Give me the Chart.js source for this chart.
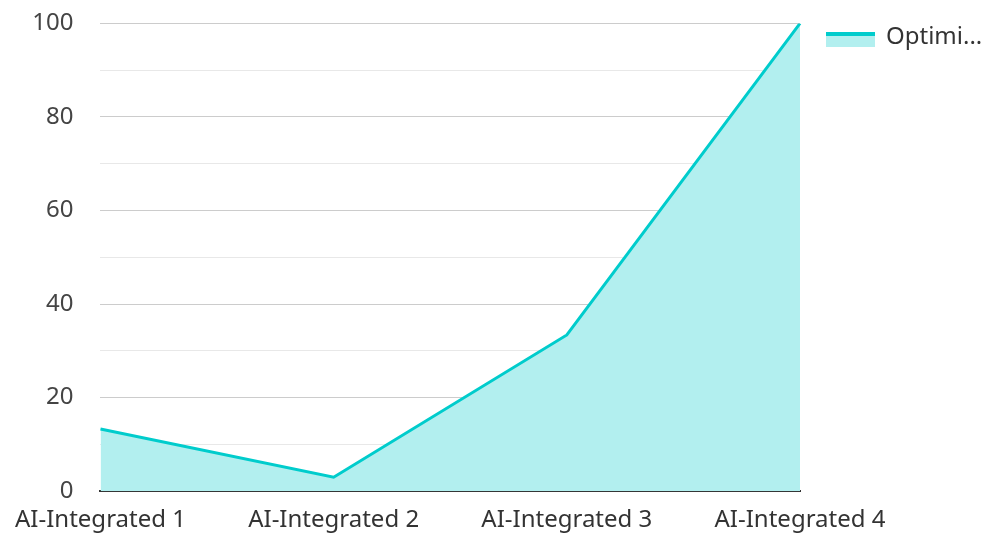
<!DOCTYPE html>
<html>
<head>
<meta charset="utf-8">
<script src="https://cdn.jsdelivr.net/npm/chart.js@4"></script>
<style>
  html, body { margin: 0; padding: 0; background: #fff; }
  #wrap { width: 987px; height: 533px; }
</style>
</head>
<body>
<div id="wrap"><canvas id="chart"></canvas></div>
<script>
const categories = ['AI-Integrated 1', 'AI-Integrated 2', 'AI-Integrated 3', 'AI-Integrated 4'];
const seriesName = 'Optimi...';
const seriesValues = [13.3, 3, 33.4, 100];
const yTicks = [0, 20, 40, 60, 80, 100];

const lineColor = '#00cccc';
const fillColor = '#b2efef';

// legend drawn by hand: thick line on top of a light box
const sideLegend = {
    id: 'sideLegend',
    afterDraw(chart) {
        const ctx = chart.ctx;
        const x = 826, y = 32;
        ctx.save();
        ctx.fillStyle = fillColor;
        ctx.fillRect(x, y, 49, 15);
        ctx.fillStyle = lineColor;
        ctx.fillRect(x, y, 49, 4);
        ctx.fillStyle = '#333';
        ctx.font = '24px "Noto Sans"';
        ctx.textBaseline = 'middle';
        ctx.fillText(chart.data.datasets[0].label, 886, 37);
        ctx.restore();
    }
};

new Chart(document.getElementById('chart'), {
    type: 'line',
    data: {
        labels: categories,
        datasets: [{
            label: seriesName,
            data: seriesValues,
            borderColor: lineColor,
            backgroundColor: fillColor,
            borderWidth: 3,
            fill: 'origin',
            tension: 0,
            pointRadius: 0
        }]
    },
    options: {
        responsive: true,
        maintainAspectRatio: false,
        animation: false,
        layout: { autoPadding: false, padding: { top: 0, right: 187, left: 3, bottom: -17 } },
        plugins: {
            legend: { display: false },
            tooltip: { enabled: false }
        },
        scales: {
            x: {
                offset: false,
                grid: { display: false, drawTicks: false },
                border: { display: true, color: '#333', width: 2 },
                ticks: {
                    color: '#333',
                    font: { family: 'Noto Sans', size: 24 },
                    padding: 15,
                    maxRotation: 0
                }
            },
            y: {
                z: 1,
                min: 0,
                max: 100,
                afterBuildTicks(axis) {
                    const t = [];
                    for (let v = 0; v <= 100; v += 10) t.push({ value: v });
                    axis.ticks = t;
                },
                grid: {
                    drawTicks: true,
                    tickLength: 18,
                    tickColor: 'rgba(0,0,0,0)',
                    lineWidth: 1,
                    color(c) {
                        if (c.tick.value === 0) return 'rgba(0,0,0,0)';
                        return yTicks.includes(c.tick.value) ? 'rgba(0,0,0,0.2)' : 'rgba(0,0,0,0.09)';
                    }
                },
                border: { display: false },
                ticks: {
                    color: '#444',
                    font: { family: 'Noto Sans', size: 24 },
                    padding: 9,
                    autoSkip: false,
                    callback(v) { return yTicks.includes(v) ? String(v) : ''; }
                }
            }
        }
    },
    plugins: [sideLegend]
});
</script>
</body>
</html>
